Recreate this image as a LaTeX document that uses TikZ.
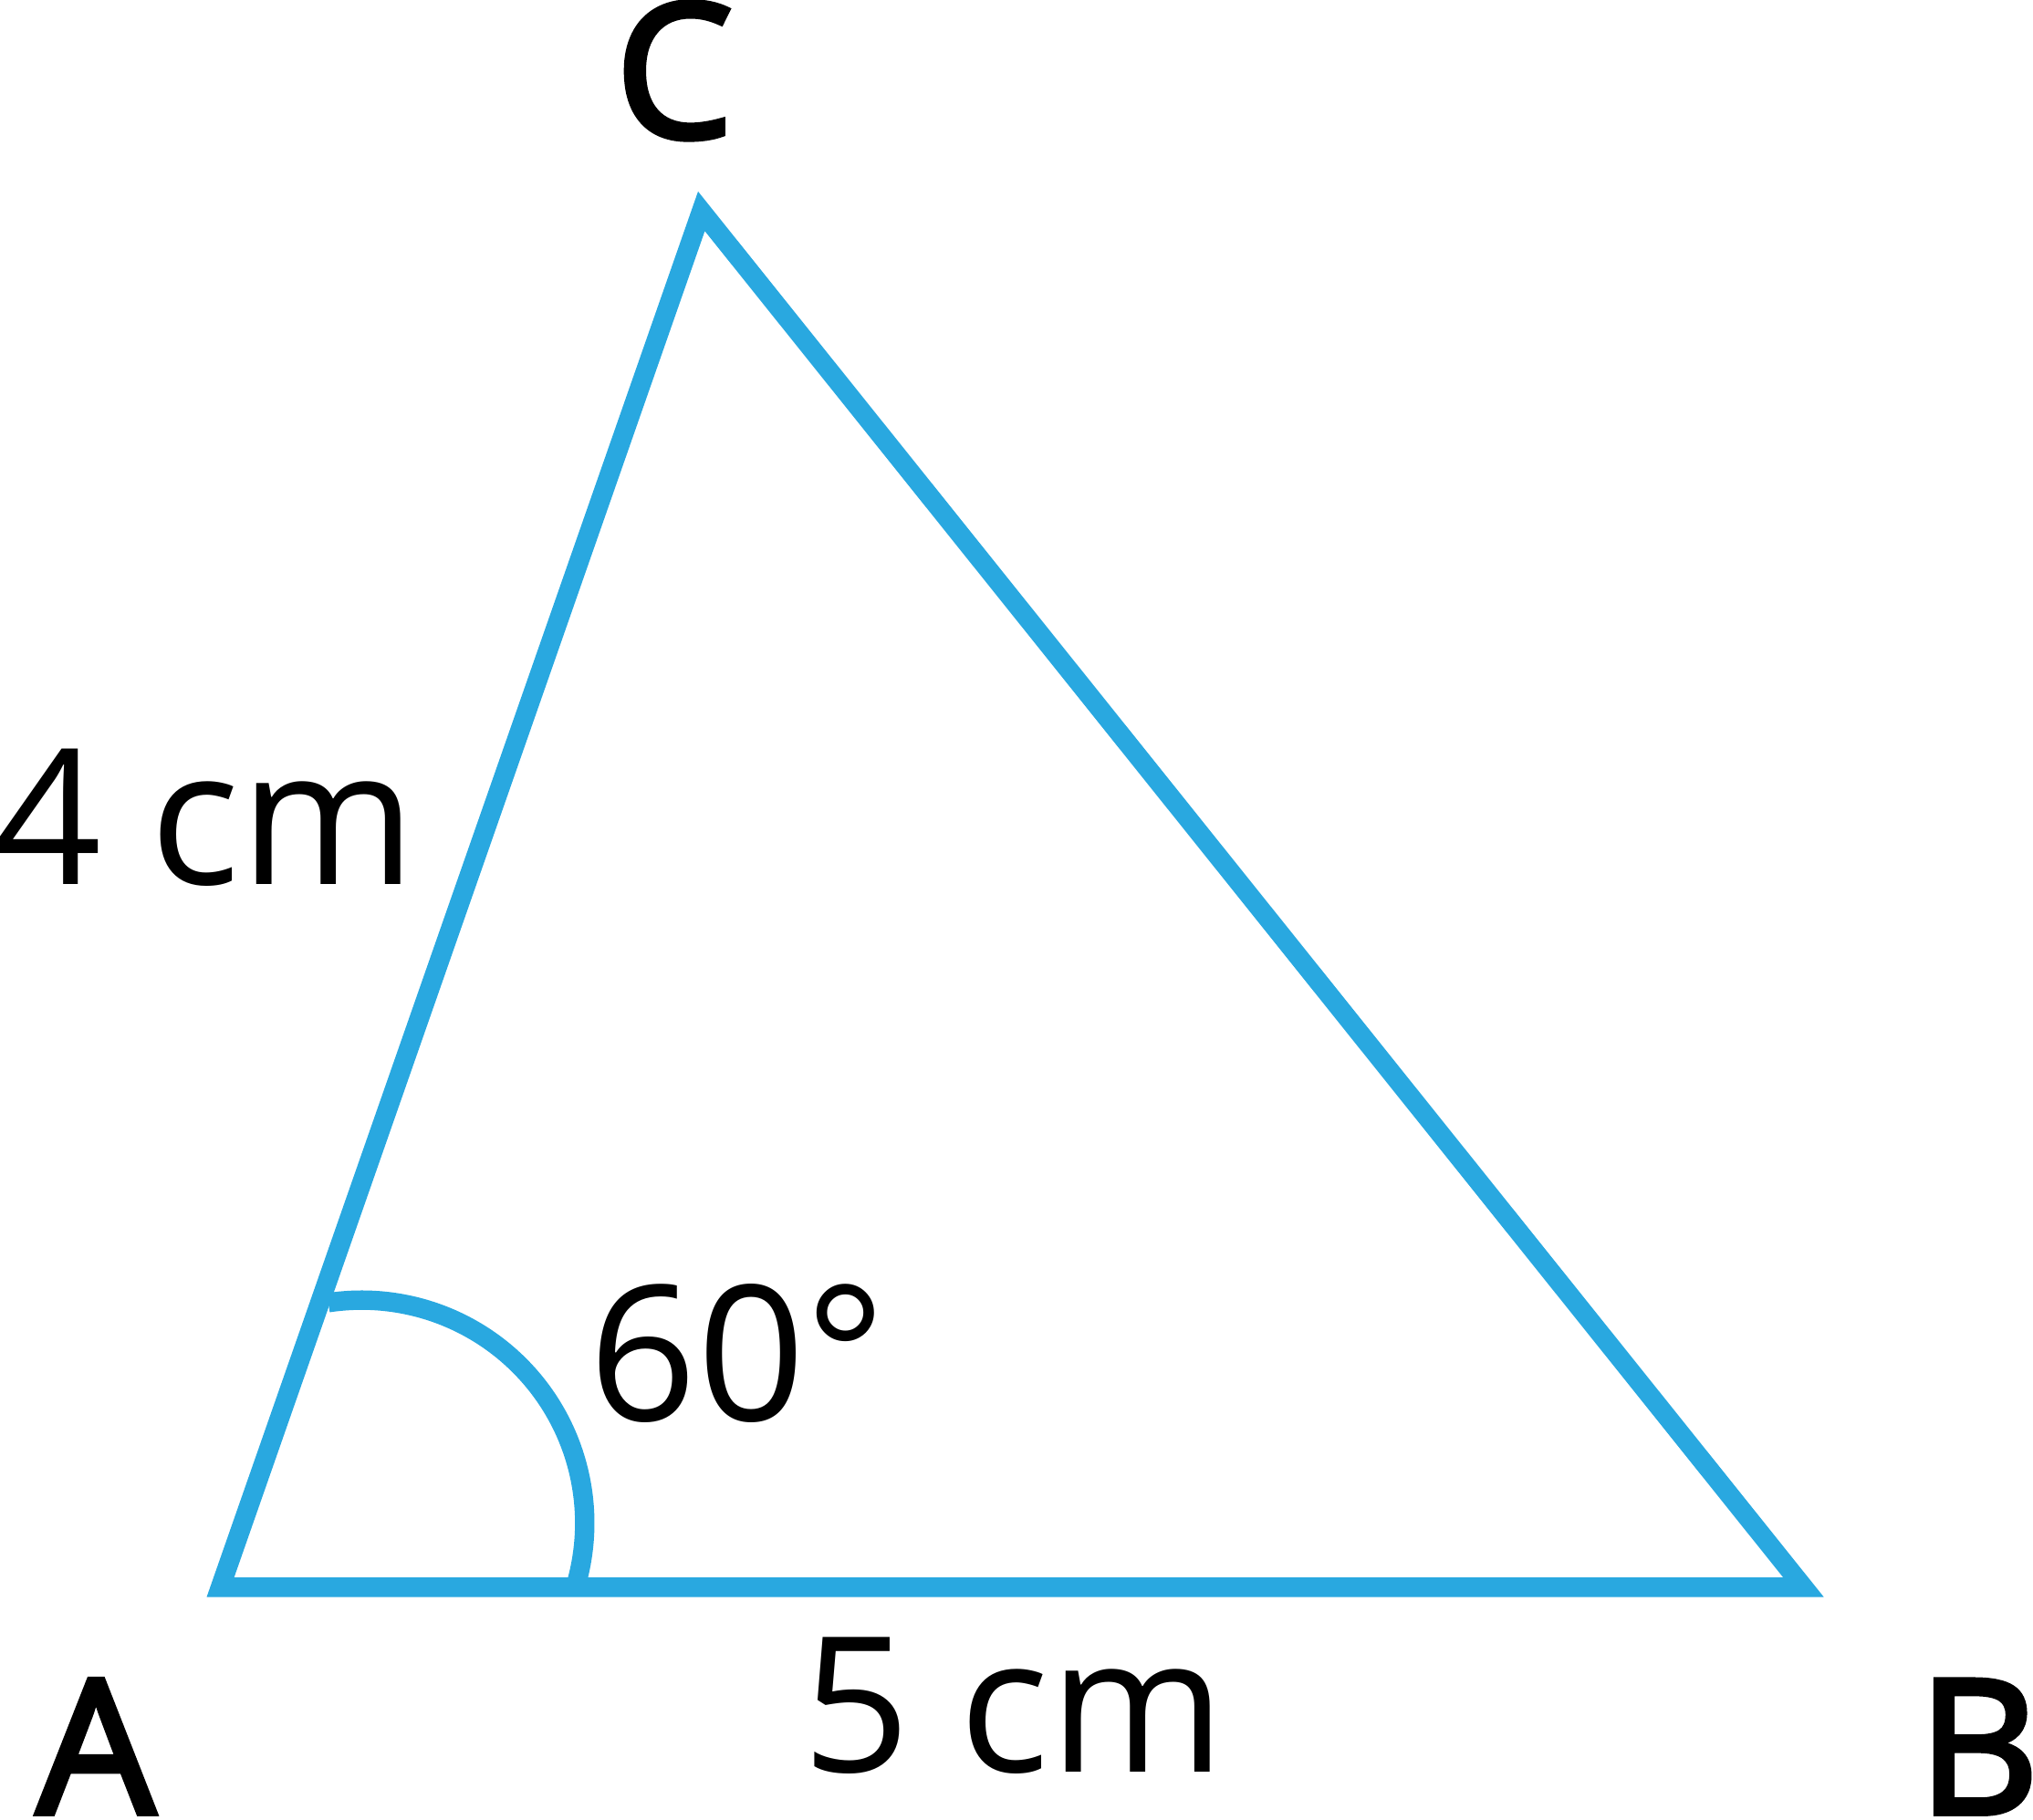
\documentclass[tikz,border=0pt]{standalone}
\usepackage{fontspec}
\setmainfont{Open Sans}
\newfontfamily\vtxfont{Open Sans}[FakeBold=3]
\usepackage{tikz}
\usetikzlibrary{positioning}
\definecolor{triblue}{HTML}{29A8E0}
\tikzset{
  side/.style={draw=triblue,line width=0.15cm,line join=miter},
  lbl/.style={inner sep=0pt,anchor=base,font=\fontsize{41.4}{50}\selectfont},
  vlbl/.style={lbl,font=\fontsize{41}{50}\selectfont\vtxfont}
}

\begin{document}
\begin{tikzpicture}[x=0.01cm,y=0.01cm]
        \useasboundingbox (0,0) rectangle (1568,1404);
        \coordinate (A) at (170,179.5);
        \coordinate (B) at (1391,179.5);
        \coordinate (C) at (541,1241);
        \coordinate (O) at (279,229);
        \draw[side] (A)--(B)--(C)--cycle;
        \draw[side,line cap=butt] ([shift={(-16.3:172)}]O) arc[start angle=-16.3,end angle=98.6,radius=172];
        \node[vlbl] (LA) at (74,5) {A};
        \node[vlbl] (LB) at (1526,5) {B};
        \node[vlbl] (LC) at (520,1298) {C};
        \node[lbl] (AC) at (158,722) {4 cm};
        \node[lbl] (AB) at (782,37) {5 cm};
        \node[lbl] (ang) at (569,308) {60°};
    \end{tikzpicture}
\end{document}
